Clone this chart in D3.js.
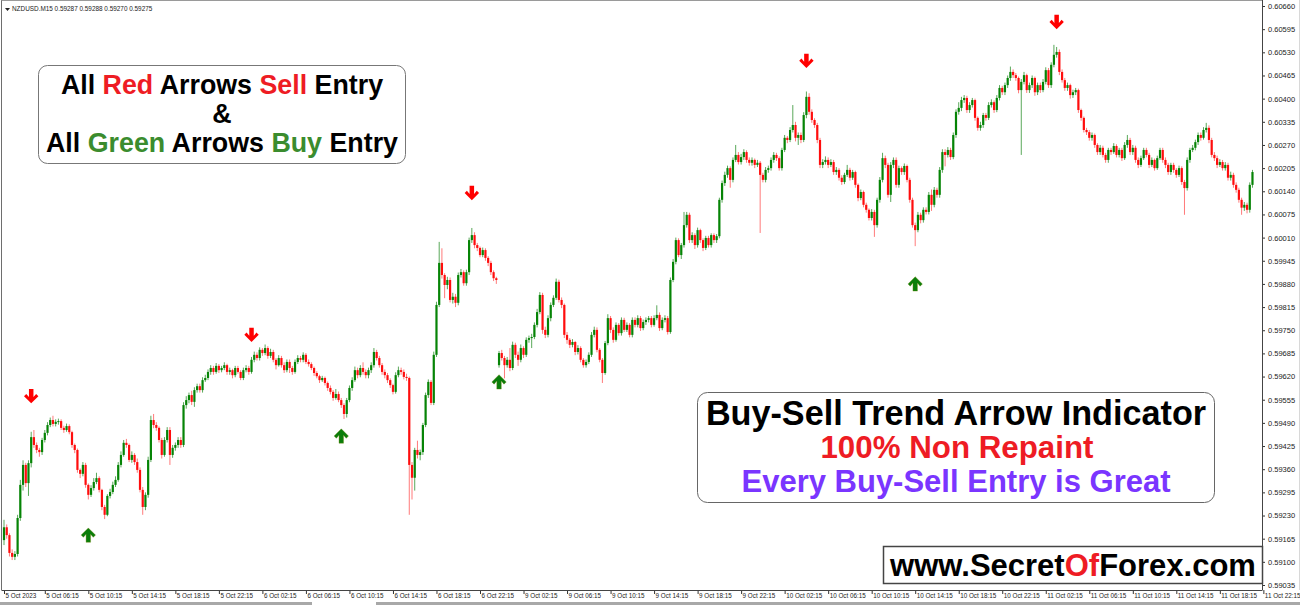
<!DOCTYPE html>
<html><head><meta charset="utf-8">
<script src="https://cdn.jsdelivr.net/npm/d3@7"></script>
<style>html,body{margin:0;padding:0;background:#fff;overflow:hidden}</style>
</head><body><svg id="c" width="1300" height="605"></svg>
<script>
const headerText = "NZDUSD.M15  0.59287 0.59288 0.59270 0.59275";
const opens = [
0.59161,0.59197,0.59175,0.59125,0.59114,0.59122,0.59223,0.59316,0.59372,0.59321,
0.59377,0.59450,0.59428,0.59414,0.59408,0.59442,0.59462,0.59484,0.59498,0.59487,
0.59493,0.59495,0.59476,0.59470,0.59481,0.59464,0.59428,0.59414,0.59358,0.59347,
0.59372,0.59316,0.59288,0.59307,0.59324,0.59335,0.59302,0.59254,0.59232,0.59285,
0.59296,0.59316,0.59330,0.59372,0.59400,0.59434,0.59428,0.59386,0.59400,0.59380,
0.59358,0.59302,0.59254,0.59288,0.59386,0.59498,0.59484,0.59476,0.59442,0.59400,
0.59442,0.59470,0.59400,0.59420,0.59428,0.59442,0.59428,0.59540,0.59554,0.59568,
0.59549,0.59582,0.59593,0.59582,0.59610,0.59616,0.59633,0.59644,0.59633,0.59650,
0.59638,0.59644,0.59652,0.59633,0.59638,0.59624,0.59644,0.59633,0.59616,0.59638,
0.59644,0.59633,0.59667,0.59681,0.59672,0.59695,0.59686,0.59700,0.59678,0.59689,
0.59667,0.59652,0.59672,0.59652,0.59638,0.59661,0.59644,0.59633,0.59661,0.59672,
0.59667,0.59681,0.59661,0.59655,0.59644,0.59630,0.59621,0.59610,0.59616,0.59602,
0.59588,0.59577,0.59560,0.59571,0.59554,0.59540,0.59515,0.59554,0.59588,0.59610,
0.59638,0.59624,0.59644,0.59633,0.59624,0.59638,0.59652,0.59689,0.59672,0.59652,
0.59633,0.59624,0.59610,0.59596,0.59577,0.59624,0.59638,0.59633,0.59619,0.59616,
0.59372,0.59336,0.59414,0.59400,0.59408,0.59484,0.59568,0.59605,0.59546,0.59681,
0.59821,0.59939,0.59905,0.59877,0.59891,0.59835,0.59844,0.59827,0.59905,0.59913,
0.59882,0.59913,0.60003,0.60017,0.59989,0.59981,0.59961,0.59975,0.59953,0.59939,
0.59913,0.59896,0.59652,0.59686,0.59672,0.59652,0.59667,0.59644,0.59709,0.59681,
0.59667,0.59700,0.59681,0.59723,0.59728,0.59731,0.59765,0.59801,0.59849,0.59751,
0.59737,0.59784,0.59821,0.59841,0.59886,0.59835,0.59821,0.59737,0.59723,0.59709,
0.59717,0.59689,0.59700,0.59667,0.59652,0.59661,0.59681,0.59737,0.59751,0.59695,
0.59667,0.59630,0.59714,0.59784,0.59751,0.59723,0.59765,0.59742,0.59779,0.59751,
0.59765,0.59737,0.59779,0.59765,0.59784,0.59756,0.59773,0.59779,0.59784,0.59765,
0.59784,0.59793,0.59756,0.59779,0.59784,0.59745,0.59891,0.59942,0.60003,0.59961,
0.59989,0.60045,0.60074,0.60003,0.60017,0.59989,0.60031,0.60003,0.59981,0.60009,
0.59989,0.60017,0.60003,0.60014,0.60116,0.60163,0.60186,0.60205,0.60172,0.60228,
0.60242,0.60222,0.60236,0.60250,0.60228,0.60220,0.60228,0.60214,0.60220,0.60186,
0.60172,0.60200,0.60205,0.60228,0.60242,0.60233,0.60205,0.60256,0.60290,0.60284,
0.60312,0.60326,0.60290,0.60298,0.60284,0.60354,0.60405,0.60363,0.60340,0.60326,
0.60284,0.60214,0.60222,0.60228,0.60214,0.60222,0.60194,0.60200,0.60178,0.60166,
0.60186,0.60200,0.60178,0.60194,0.60158,0.60121,0.60138,0.60102,0.60088,0.60065,
0.60082,0.60045,0.60116,0.60172,0.60233,0.60214,0.60130,0.60214,0.60228,0.60158,
0.60205,0.60194,0.60211,0.60172,0.60116,0.60045,0.60031,0.60074,0.60059,0.60088,
0.60082,0.60130,0.60102,0.60144,0.60130,0.60200,0.60250,0.60242,0.60256,0.60236,
0.60298,0.60363,0.60374,0.60396,0.60402,0.60368,0.60382,0.60396,0.60346,0.60318,
0.60326,0.60354,0.60346,0.60382,0.60390,0.60368,0.60402,0.60430,0.60418,0.60438,
0.60458,0.60475,0.60466,0.60458,0.60424,0.60447,0.60466,0.60424,0.60438,0.60458,
0.60418,0.60438,0.60424,0.60447,0.60480,0.60438,0.60495,0.60523,0.60531,0.60475,
0.60452,0.60430,0.60438,0.60410,0.60418,0.60424,0.60368,0.60346,0.60312,0.60306,
0.60290,0.60298,0.60270,0.60250,0.60262,0.60242,0.60228,0.60256,0.60250,0.60267,
0.60242,0.60256,0.60233,0.60270,0.60284,0.60250,0.60262,0.60228,0.60214,0.60233,
0.60256,0.60242,0.60214,0.60228,0.60205,0.60233,0.60256,0.60228,0.60214,0.60194,
0.60214,0.60200,0.60186,0.60205,0.60166,0.60149,0.60228,0.60256,0.60262,0.60278,
0.60298,0.60290,0.60312,0.60318,0.60284,0.60242,0.60233,0.60214,0.60222,0.60205,
0.60214,0.60178,0.60186,0.60158,0.60144,0.60116,0.60094,0.60102,0.60088,0.60158];
const highs = [
0.59218,0.59205,0.59180,0.59135,0.59130,0.59232,0.59330,0.59385,0.59378,0.59385,
0.59465,0.59470,0.59435,0.59420,0.59448,0.59470,0.59492,0.59505,0.59510,0.59500,
0.59502,0.59500,0.59482,0.59488,0.59486,0.59468,0.59432,0.59418,0.59362,0.59380,
0.59378,0.59320,0.59315,0.59335,0.59350,0.59340,0.59305,0.59260,0.59290,0.59305,
0.59325,0.59340,0.59380,0.59410,0.59442,0.59445,0.59432,0.59410,0.59405,0.59390,
0.59365,0.59310,0.59295,0.59395,0.59510,0.59515,0.59492,0.59480,0.59448,0.59450,
0.59478,0.59478,0.59428,0.59435,0.59450,0.59450,0.59548,0.59565,0.59575,0.59580,
0.59590,0.59600,0.59600,0.59618,0.59625,0.59640,0.59652,0.59650,0.59658,0.59655,
0.59650,0.59660,0.59656,0.59645,0.59642,0.59650,0.59650,0.59638,0.59645,0.59652,
0.59650,0.59675,0.59690,0.59688,0.59702,0.59700,0.59710,0.59705,0.59698,0.59695,
0.59672,0.59680,0.59678,0.59660,0.59668,0.59668,0.59650,0.59668,0.59680,0.59678,
0.59688,0.59686,0.59668,0.59660,0.59648,0.59635,0.59625,0.59622,0.59620,0.59606,
0.59595,0.59582,0.59585,0.59578,0.59560,0.59545,0.59560,0.59595,0.59618,0.59648,
0.59645,0.59652,0.59660,0.59640,0.59645,0.59660,0.59700,0.59695,0.59678,0.59658,
0.59640,0.59630,0.59615,0.59600,0.59632,0.59648,0.59645,0.59640,0.59628,0.59620,
0.59380,0.59420,0.59440,0.59415,0.59490,0.59575,0.59612,0.59610,0.59690,0.59830,
0.59998,0.59980,0.59910,0.59900,0.59898,0.59855,0.59852,0.59912,0.59922,0.59918,
0.59920,0.60010,0.60037,0.60025,0.59995,0.59985,0.59982,0.59980,0.59958,0.59945,
0.59918,0.59900,0.59692,0.59695,0.59678,0.59675,0.59700,0.59718,0.59715,0.59690,
0.59710,0.59705,0.59730,0.59735,0.59740,0.59772,0.59810,0.59857,0.59855,0.59760,
0.59792,0.59828,0.59848,0.59895,0.59892,0.59842,0.59825,0.59745,0.59728,0.59725,
0.59720,0.59708,0.59705,0.59672,0.59668,0.59688,0.59745,0.59760,0.59758,0.59700,
0.59672,0.59720,0.59795,0.59790,0.59758,0.59772,0.59770,0.59786,0.59785,0.59772,
0.59770,0.59786,0.59786,0.59792,0.59790,0.59780,0.59786,0.59790,0.59790,0.59792,
0.59820,0.59800,0.59786,0.59792,0.59790,0.59898,0.59950,0.60010,0.60008,0.59995,
0.60082,0.60082,0.60080,0.60025,0.60022,0.60038,0.60035,0.60008,0.60015,0.60015,
0.60022,0.60022,0.60020,0.60122,0.60170,0.60195,0.60212,0.60210,0.60235,0.60270,
0.60250,0.60245,0.60258,0.60255,0.60235,0.60235,0.60232,0.60228,0.60225,0.60192,
0.60208,0.60212,0.60235,0.60250,0.60248,0.60238,0.60262,0.60298,0.60295,0.60320,
0.60382,0.60335,0.60305,0.60305,0.60362,0.60420,0.60415,0.60370,0.60345,0.60332,
0.60290,0.60230,0.60238,0.60235,0.60230,0.60228,0.60208,0.60205,0.60185,0.60192,
0.60214,0.60206,0.60200,0.60198,0.60162,0.60145,0.60142,0.60108,0.60092,0.60090,
0.60088,0.60122,0.60180,0.60248,0.60240,0.60220,0.60222,0.60235,0.60235,0.60212,
0.60210,0.60218,0.60215,0.60178,0.60122,0.60052,0.60082,0.60080,0.60095,0.60095,
0.60138,0.60145,0.60152,0.60150,0.60208,0.60258,0.60258,0.60264,0.60262,0.60305,
0.60370,0.60390,0.60405,0.60410,0.60408,0.60390,0.60402,0.60400,0.60350,0.60335,
0.60360,0.60360,0.60390,0.60398,0.60395,0.60410,0.60438,0.60436,0.60445,0.60465,
0.60490,0.60482,0.60472,0.60462,0.60455,0.60475,0.60470,0.60445,0.60465,0.60462,
0.60445,0.60445,0.60455,0.60488,0.60486,0.60502,0.60551,0.60545,0.60538,0.60482,
0.60458,0.60445,0.60442,0.60425,0.60430,0.60428,0.60372,0.60350,0.60318,0.60312,
0.60305,0.60302,0.60275,0.60270,0.60268,0.60248,0.60262,0.60262,0.60275,0.60272,
0.60262,0.60262,0.60278,0.60298,0.60290,0.60270,0.60268,0.60235,0.60240,0.60262,
0.60262,0.60248,0.60235,0.60232,0.60240,0.60262,0.60262,0.60235,0.60220,0.60220,
0.60220,0.60205,0.60212,0.60210,0.60172,0.60235,0.60262,0.60270,0.60285,0.60305,
0.60305,0.60320,0.60332,0.60325,0.60290,0.60250,0.60240,0.60230,0.60228,0.60222,
0.60220,0.60195,0.60192,0.60165,0.60150,0.60122,0.60110,0.60108,0.60165,0.60200];
const lows = [
0.59147,0.59165,0.59115,0.59105,0.59105,0.59115,0.59215,0.59300,0.59310,0.59285,
0.59365,0.59420,0.59405,0.59395,0.59400,0.59435,0.59455,0.59478,0.59480,0.59480,
0.59485,0.59470,0.59462,0.59465,0.59458,0.59420,0.59405,0.59350,0.59335,0.59340,
0.59308,0.59275,0.59282,0.59300,0.59318,0.59295,0.59245,0.59220,0.59228,0.59278,
0.59290,0.59310,0.59325,0.59365,0.59395,0.59420,0.59380,0.59378,0.59372,0.59350,
0.59295,0.59232,0.59245,0.59280,0.59380,0.59475,0.59468,0.59435,0.59390,0.59395,
0.59435,0.59372,0.59392,0.59412,0.59420,0.59420,0.59422,0.59530,0.59545,0.59540,
0.59535,0.59575,0.59575,0.59575,0.59605,0.59610,0.59625,0.59625,0.59628,0.59630,
0.59632,0.59638,0.59625,0.59625,0.59615,0.59618,0.59628,0.59610,0.59610,0.59632,
0.59625,0.59628,0.59660,0.59665,0.59665,0.59678,0.59680,0.59670,0.59672,0.59660,
0.59640,0.59648,0.59645,0.59630,0.59632,0.59630,0.59625,0.59628,0.59655,0.59660,
0.59660,0.59655,0.59648,0.59638,0.59622,0.59615,0.59602,0.59605,0.59595,0.59580,
0.59570,0.59552,0.59555,0.59548,0.59532,0.59501,0.59505,0.59548,0.59580,0.59605,
0.59615,0.59618,0.59625,0.59615,0.59615,0.59630,0.59645,0.59665,0.59645,0.59625,
0.59615,0.59602,0.59588,0.59570,0.59572,0.59618,0.59625,0.59612,0.59608,0.59232,
0.59275,0.59300,0.59390,0.59385,0.59400,0.59478,0.59560,0.59540,0.59540,0.59675,
0.59815,0.59895,0.59840,0.59865,0.59828,0.59825,0.59815,0.59820,0.59898,0.59875,
0.59875,0.59905,0.59995,0.59980,0.59972,0.59955,0.59955,0.59945,0.59930,0.59905,
0.59888,0.59880,0.59645,0.59665,0.59615,0.59645,0.59635,0.59638,0.59672,0.59650,
0.59660,0.59672,0.59675,0.59715,0.59700,0.59725,0.59758,0.59795,0.59740,0.59728,
0.59730,0.59775,0.59815,0.59835,0.59828,0.59812,0.59728,0.59712,0.59700,0.59702,
0.59680,0.59682,0.59660,0.59645,0.59645,0.59655,0.59675,0.59730,0.59688,0.59660,
0.59602,0.59625,0.59708,0.59742,0.59715,0.59718,0.59735,0.59735,0.59745,0.59745,
0.59730,0.59730,0.59758,0.59758,0.59748,0.59750,0.59765,0.59772,0.59758,0.59760,
0.59778,0.59748,0.59750,0.59772,0.59738,0.59740,0.59885,0.59935,0.59955,0.59950,
0.59982,0.60038,0.59995,0.59995,0.59978,0.59982,0.59995,0.59972,0.59975,0.59982,
0.59982,0.59995,0.59995,0.60008,0.60108,0.60155,0.60178,0.60150,0.60165,0.60222,
0.60215,0.60215,0.60228,0.60220,0.60212,0.60212,0.60205,0.60208,0.60023,0.60165,
0.60165,0.60192,0.60198,0.60220,0.60225,0.60198,0.60198,0.60250,0.60275,0.60278,
0.60305,0.60280,0.60270,0.60275,0.60278,0.60345,0.60355,0.60332,0.60318,0.60275,
0.60205,0.60205,0.60215,0.60205,0.60208,0.60186,0.60186,0.60170,0.60158,0.60160,
0.60180,0.60170,0.60172,0.60150,0.60112,0.60115,0.60095,0.60080,0.60058,0.60058,
0.60012,0.60038,0.60108,0.60165,0.60205,0.60122,0.60110,0.60205,0.60150,0.60150,
0.60186,0.60186,0.60165,0.60108,0.60038,0.59986,0.60025,0.60050,0.60052,0.60075,
0.60075,0.60085,0.60095,0.60122,0.60122,0.60192,0.60210,0.60235,0.60228,0.60230,
0.60290,0.60355,0.60365,0.60388,0.60360,0.60360,0.60375,0.60338,0.60310,0.60310,
0.60318,0.60338,0.60340,0.60375,0.60360,0.60362,0.60395,0.60410,0.60410,0.60430,
0.60450,0.60458,0.60450,0.60415,0.60242,0.60440,0.60416,0.60416,0.60430,0.60408,
0.60410,0.60416,0.60418,0.60440,0.60430,0.60430,0.60488,0.60515,0.60466,0.60445,
0.60422,0.60422,0.60400,0.60402,0.60410,0.60360,0.60338,0.60305,0.60298,0.60282,
0.60282,0.60262,0.60242,0.60242,0.60235,0.60220,0.60220,0.60242,0.60245,0.60235,
0.60235,0.60225,0.60228,0.60262,0.60242,0.60242,0.60220,0.60205,0.60208,0.60228,
0.60235,0.60205,0.60208,0.60198,0.60200,0.60228,0.60220,0.60205,0.60186,0.60186,
0.60192,0.60178,0.60180,0.60158,0.60074,0.60142,0.60220,0.60250,0.60255,0.60270,
0.60282,0.60285,0.60305,0.60275,0.60235,0.60225,0.60205,0.60208,0.60198,0.60198,
0.60170,0.60170,0.60150,0.60136,0.60108,0.60074,0.60085,0.60078,0.60080,0.60150];
const closes = [
0.59197,0.59175,0.59125,0.59114,0.59122,0.59223,0.59316,0.59372,0.59321,0.59377,
0.59450,0.59428,0.59414,0.59408,0.59442,0.59462,0.59484,0.59498,0.59487,0.59493,
0.59495,0.59476,0.59470,0.59481,0.59464,0.59428,0.59414,0.59358,0.59347,0.59372,
0.59316,0.59288,0.59307,0.59324,0.59335,0.59302,0.59254,0.59232,0.59285,0.59296,
0.59316,0.59330,0.59372,0.59400,0.59434,0.59428,0.59386,0.59400,0.59380,0.59358,
0.59302,0.59254,0.59288,0.59386,0.59498,0.59484,0.59476,0.59442,0.59400,0.59442,
0.59470,0.59400,0.59420,0.59428,0.59442,0.59428,0.59540,0.59554,0.59568,0.59549,
0.59582,0.59593,0.59582,0.59610,0.59616,0.59633,0.59644,0.59633,0.59650,0.59638,
0.59644,0.59652,0.59633,0.59638,0.59624,0.59644,0.59633,0.59616,0.59638,0.59644,
0.59633,0.59667,0.59681,0.59672,0.59695,0.59686,0.59700,0.59678,0.59689,0.59667,
0.59652,0.59672,0.59652,0.59638,0.59661,0.59644,0.59633,0.59661,0.59672,0.59667,
0.59681,0.59661,0.59655,0.59644,0.59630,0.59621,0.59610,0.59616,0.59602,0.59588,
0.59577,0.59560,0.59571,0.59554,0.59540,0.59515,0.59554,0.59588,0.59610,0.59638,
0.59624,0.59644,0.59633,0.59624,0.59638,0.59652,0.59689,0.59672,0.59652,0.59633,
0.59624,0.59610,0.59596,0.59577,0.59624,0.59638,0.59633,0.59619,0.59616,0.59372,
0.59336,0.59414,0.59400,0.59408,0.59484,0.59568,0.59605,0.59546,0.59681,0.59821,
0.59939,0.59905,0.59877,0.59891,0.59835,0.59844,0.59827,0.59905,0.59913,0.59882,
0.59913,0.60003,0.60017,0.59989,0.59981,0.59961,0.59975,0.59953,0.59939,0.59913,
0.59896,0.59891,0.59686,0.59672,0.59652,0.59667,0.59644,0.59709,0.59681,0.59667,
0.59700,0.59681,0.59723,0.59728,0.59731,0.59765,0.59801,0.59849,0.59751,0.59737,
0.59784,0.59821,0.59841,0.59886,0.59835,0.59821,0.59737,0.59723,0.59709,0.59717,
0.59689,0.59700,0.59667,0.59652,0.59661,0.59681,0.59737,0.59751,0.59695,0.59667,
0.59630,0.59714,0.59784,0.59751,0.59723,0.59765,0.59742,0.59779,0.59751,0.59765,
0.59737,0.59779,0.59765,0.59784,0.59756,0.59773,0.59779,0.59784,0.59765,0.59784,
0.59793,0.59756,0.59779,0.59784,0.59745,0.59891,0.59942,0.60003,0.59961,0.59989,
0.60045,0.60074,0.60003,0.60017,0.59989,0.60031,0.60003,0.59981,0.60009,0.59989,
0.60017,0.60003,0.60014,0.60116,0.60163,0.60186,0.60205,0.60172,0.60228,0.60242,
0.60222,0.60236,0.60250,0.60228,0.60220,0.60228,0.60214,0.60220,0.60186,0.60172,
0.60200,0.60205,0.60228,0.60242,0.60233,0.60205,0.60256,0.60290,0.60284,0.60312,
0.60326,0.60290,0.60298,0.60284,0.60354,0.60405,0.60363,0.60340,0.60326,0.60284,
0.60214,0.60222,0.60228,0.60214,0.60222,0.60194,0.60200,0.60178,0.60166,0.60186,
0.60200,0.60178,0.60194,0.60158,0.60121,0.60138,0.60102,0.60088,0.60065,0.60082,
0.60045,0.60116,0.60172,0.60233,0.60214,0.60130,0.60214,0.60228,0.60158,0.60205,
0.60194,0.60211,0.60172,0.60116,0.60045,0.60031,0.60074,0.60059,0.60088,0.60082,
0.60130,0.60102,0.60144,0.60130,0.60200,0.60250,0.60242,0.60256,0.60236,0.60298,
0.60363,0.60374,0.60396,0.60402,0.60368,0.60382,0.60396,0.60346,0.60318,0.60326,
0.60354,0.60346,0.60382,0.60390,0.60368,0.60402,0.60430,0.60418,0.60438,0.60458,
0.60475,0.60466,0.60458,0.60424,0.60447,0.60466,0.60424,0.60438,0.60458,0.60418,
0.60438,0.60424,0.60447,0.60480,0.60438,0.60495,0.60523,0.60531,0.60475,0.60452,
0.60430,0.60438,0.60410,0.60418,0.60424,0.60368,0.60346,0.60312,0.60306,0.60290,
0.60298,0.60270,0.60250,0.60262,0.60242,0.60228,0.60256,0.60250,0.60267,0.60242,
0.60256,0.60233,0.60270,0.60284,0.60250,0.60262,0.60228,0.60214,0.60233,0.60256,
0.60242,0.60214,0.60228,0.60205,0.60233,0.60256,0.60228,0.60214,0.60194,0.60214,
0.60200,0.60186,0.60205,0.60166,0.60149,0.60228,0.60256,0.60262,0.60278,0.60298,
0.60290,0.60312,0.60318,0.60284,0.60242,0.60233,0.60214,0.60222,0.60205,0.60214,
0.60178,0.60186,0.60158,0.60144,0.60116,0.60094,0.60102,0.60088,0.60158,0.60194];

const sellBars = [10, 91, 172, 295, 387];
const sellLevels = [0.59565, 0.59737, 0.60135, 0.60506, 0.60615];
const buyBars = [31, 124, 182, 335];
const buyLevels = [0.59175, 0.59453, 0.59605, 0.59880];

const priceTicks = [0.60660,0.60595,0.60530,0.60465,0.60400,0.60335,0.60270,0.60205,0.60140,0.60075,0.60010,0.59945,0.59880,0.59815,0.59750,0.59685,0.59620,0.59555,0.59490,0.59425,0.59360,0.59295,0.59230,0.59165,0.59100,0.59035];
const timeTickBars = [0,15,31,47,63,79,95,111,127,143,159,175,191,207,223,239,255,271,287,303,319,335,351,367,383,399,415,431,447,463];
const timeTickLabels = ["5 Oct 2023","5 Oct 06:15","5 Oct 10:15","5 Oct 14:15","5 Oct 18:15","5 Oct 22:15","6 Oct 02:15","6 Oct 06:15","6 Oct 10:15","6 Oct 14:15","6 Oct 18:15","6 Oct 22:15","9 Oct 02:15","9 Oct 06:15","9 Oct 10:15","9 Oct 14:15","9 Oct 18:15","9 Oct 22:15","10 Oct 02:15","10 Oct 06:15","10 Oct 10:15","10 Oct 14:15","10 Oct 18:15","10 Oct 22:15","11 Oct 02:15","11 Oct 06:15","11 Oct 10:15","11 Oct 14:15","11 Oct 18:15","11 Oct 22:15"];

const svg = d3.select("#c");
const plotRight = 1262, plotBottom = 590;
const x = d3.scaleLinear().domain([0, 459]).range([4, 4 + 459 * 2.72]);
const y = d3.scaleLinear().domain([0.59035, 0.60660]).range([585, 6]);

svg.append("rect").attr("width",1300).attr("height",605).attr("fill","#fff");
svg.append("line").attr("x1",1.5).attr("x2",1.5).attr("y1",0).attr("y2",plotBottom).attr("stroke","#6e6e6e");
svg.append("line").attr("x1",1.5).attr("x2",plotRight).attr("y1",0.5).attr("y2",0.5).attr("stroke","#9a9a9a");
svg.append("line").attr("x1",1299.5).attr("x2",1299.5).attr("y1",0).attr("y2",590).attr("stroke","#d8d8d8");

// candles
const bars = d3.range(opens.length);
const g = svg.append("g");
g.selectAll("line.wick").data(bars).join("line")
  .attr("x1", i => x(i)).attr("x2", i => x(i))
  .attr("y1", i => y(highs[i])).attr("y2", i => y(lows[i]))
  .attr("stroke", i => closes[i] >= opens[i] ? "#5aa85a" : "#ff7a7a").attr("stroke-width", 1);
g.selectAll("rect.body").data(bars).join("rect")
  .attr("x", i => x(i) - 1.1).attr("width", 2.2)
  .attr("y", i => y(Math.max(opens[i], closes[i])))
  .attr("height", i => Math.max(1, Math.abs(y(opens[i]) - y(closes[i]))))
  .attr("fill", i => closes[i] > opens[i] ? "#068406" : (closes[i] < opens[i] ? "#ff0d0d" : "#888"));

// arrows
const downArrow = "M-2.5,-8L2.5,-8L2.5,1L5.5,-2.5L8,0L0,8L-8,0L-5.5,-2.5L-2.5,1Z";
const upArrow = "M-2.5,8L2.5,8L2.5,-1L5.5,2.5L8,0L0,-8L-8,0L-5.5,2.5L-2.5,-1Z";
svg.append("g").selectAll("path").data(sellBars).join("path")
  .attr("d", downArrow).attr("fill", "#ff0000")
  .attr("transform", (b, k) => `translate(${x(b)},${y(sellLevels[k])}) scale(0.9)`);
svg.append("g").selectAll("path").data(buyBars).join("path")
  .attr("d", upArrow).attr("fill", "#0a7d0a").attr("stroke","#7a8a10").attr("stroke-width",0.4)
  .attr("transform", (b, k) => `translate(${x(b)},${y(buyLevels[k])}) scale(0.9)`);

// axes
const axisFont = "Liberation Sans, Arial, sans-serif";
const yAxis = svg.append("g").attr("transform", `translate(${plotRight},0)`)
  .call(d3.axisRight(y).tickValues(priceTicks).tickFormat(d3.format(".5f")).tickSize(3).tickPadding(3));
yAxis.select(".domain").remove();
yAxis.selectAll("line").attr("stroke","#333");
yAxis.selectAll("text").attr("font-family", axisFont).attr("font-size", 7.5).attr("fill","#222");
svg.append("line").attr("x1",plotRight+0.5).attr("x2",plotRight+0.5).attr("y1",0).attr("y2",plotBottom).attr("stroke","#444");

const xAxis = svg.append("g").attr("transform", `translate(0,${plotBottom})`)
  .call(d3.axisBottom(x).tickValues(timeTickBars).tickFormat((d, k) => timeTickLabels[k]).tickSize(4).tickPadding(1));
xAxis.select(".domain").remove();
xAxis.selectAll("line").attr("stroke","#333");
xAxis.selectAll("text").attr("font-family", axisFont).attr("font-size", 6.3).attr("fill","#222")
  .attr("text-anchor","start").attr("dx", 1).attr("dy", "0.45em");
svg.append("line").attr("x1",1.5).attr("x2",plotRight+0.5).attr("y1",plotBottom+0.5).attr("y2",plotBottom+0.5).attr("stroke","#444");

// bottom strip
svg.append("rect").attr("x",0).attr("y",602).attr("width",1300).attr("height",3).attr("fill","#a8a8a8");
svg.append("rect").attr("x",312).attr("y",602).attr("width",64).attr("height",3).attr("fill","#fff");

// header
svg.append("path").attr("d","M5,8L10,8L7.5,11Z").attr("fill","#222");
svg.append("text").attr("x",12).attr("y",11).attr("font-family",axisFont).attr("font-size",6.4)
  .attr("fill","#222").text(headerText);

// text boxes
const boldFont = "Liberation Sans, Arial, sans-serif";
function box(x0, y0, w, h, r, stroke, sw) {
  svg.append("rect").attr("x",x0).attr("y",y0).attr("width",w).attr("height",h).attr("rx",r)
    .attr("fill","#fff").attr("stroke",stroke).attr("stroke-width",sw);
}
function line(cx, by, size, parts) {
  const t = svg.append("text").attr("x",cx).attr("y",by).attr("text-anchor","middle")
    .attr("font-family",boldFont).attr("font-weight","bold").attr("font-size",size);
  parts.forEach(([s,c]) => t.append("tspan").attr("fill",c).text(s));
}
const RED = "#ee1c24", GREEN = "#3b8c2e", BLACK = "#000", PURPLE = "#7a35ff";
box(38.5, 65.5, 367, 98, 9, "#777", 1);
line(222, 94, 26.8, [["All ",BLACK],["Red",RED],[" Arrows ",BLACK],["Sell",RED],[" Entry",BLACK]]);
line(222, 123, 26.8, [["&",BLACK]]);
line(222, 152, 26.8, [["All ",BLACK],["Green",GREEN],[" Arrows ",BLACK],["Buy",GREEN],[" Entry",BLACK]]);

box(697.5, 392.5, 517, 110, 10, "#666", 1);
line(956, 425, 34.2, [["Buy-Sell Trend Arrow Indicator",BLACK]]);
line(957, 458, 31.3, [["100% Non Repaint",RED]]);
line(956, 492, 31, [["Every Buy-Sell Entry is Great",PURPLE]]);

box(883.5, 546.5, 379, 37, 0, "#444", 1.5);
line(1073, 576, 31, [["www.Secret",BLACK],["Of",RED],["Forex.com",BLACK]]);
</script></body></html>
